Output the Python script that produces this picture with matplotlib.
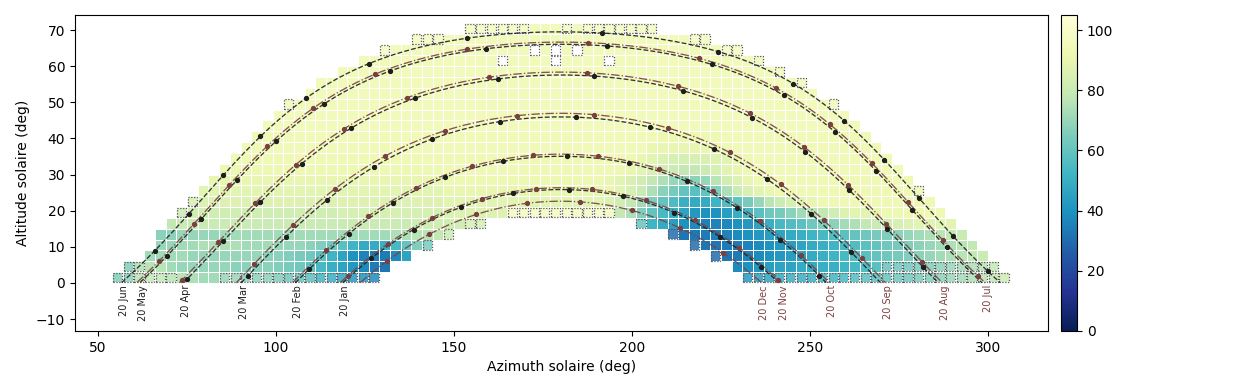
import numpy as np
import matplotlib
matplotlib.use("Agg")
import matplotlib.pyplot as plt
from matplotlib.patches import Rectangle
from matplotlib.colors import Normalize
from matplotlib.cm import ScalarMappable

# ---------------- data ----------------
# grid of 3 deg x 3 deg cells, azimuth edges start at 54 deg, altitude edges at 0 deg
az_first_edge = 54
alt_first_edge = 0
cell_size = 3
n_cols = 84
n_rows = 24

# each row (altitude band) : list of (first column, values)  ; None = empty cell
row_00 = [(0, [66, 68, 76, 78, 78, 76, 76, 74, 72, 72, 70, 70, 68, 68, 68, 66, 62, 60, 58, 52, 50, 46, 42, 40, 38]),
          (59, [42, 44, 46, 48, 50, 50, 50, 52, 52, 54, 56, 58, 58, 60, 62, 62, 64, 66, 68, 70, 72, 74, 76, 78, 82])]
row_01 = [(1, [66, 74, 76, 76, 72, 70, 70, 70, 70, 70, 68, 68, 68, 68, 66, 64, 62, 58, 54, 50, 46, 42, 38, 34, 32]),
          (58, [38, 40, 42, 44, 46, 46, 48, 48, 50, 50, 52, 54, 56, 58, 60, 62, 62, 64, 66, 68, 70, 72, 74, 76, 78])]
row_02 = [(3, [72, 72, 72, 72, 70, 70, 70, 70, 70, 70, 70, 68, 68, 66, 64, 62, 58, 52, 46, 40, 36, 34, 34, 38, 46]),
          (56, [30, 32, 34, 36, 38, 40, 42, 44, 46, 48, 50, 52, 54, 56, 58, 60, 62, 64, 66, 68, 70, 72, 74, 76, 78, 80])]
row_03 = [(4, [70, 70, 72, 72, 74, 74, 74, 74, 72, 72, 72, 70, 70, 70, 68, 66, 62, 58, 52, 48, 48, 50, 54, 60, 66, 64]),
          (54, [30, 32, 32, 34, 34, 36, 38, 40, 42, 44, 46, 48, 50, 52, 54, 56, 58, 60, 62, 64, 66, 68, 70, 72, 74, 76, 78])]
row_04 = [(4, [68, 68, 70, 70, 70, 70, 72, 72, 72, 72, 72, 72, 72, 72, 72, 72, 72, 72, 72, 72, 72, 72, 74, 74, 76, 76, 78, 80]),
          (52, [30, 32, 33, 34, 35, 36, 38, 40, 42, 44, 46, 48, 50, 52, 54, 56, 58, 60, 62, 64, 66, 68, 70, 72, 74, 76, 78, 80])]
row_05 = [(5, [78, 80, 80, 80, 80, 80, 80, 80, 80, 80, 80, 80, 80, 80, 80, 80, 80, 80, 80, 80, 80, 80, 80, 82, 82, 82, 82, 82, 84, 84]),
          (49, [60, 52, 48, 44, 40, 38, 36, 36, 37, 40, 42, 46, 50, 54, 56, 58, 62, 66, 68, 72, 74, 78, 80, 82, 84, 86, 88, 88, 88, 88])]
row_06 = [(6, [80, 82, 82, 82, 82, 82, 82, 82, 82, 82, 82, 82, 82, 82, 82, 84, 84, 84, 84, 84, 84, 84, 84, 84, 84, 86, 86, 86, 86, 86, 86,
               98, 98, 98, 98, 98, 98, 98, 98, 98, 98,
               78, 74, 66, 60, 54, 50, 46, 42, 40, 40, 44, 50, 54, 58, 62, 64, 68, 72, 76, 78, 82, 86, 88, 88, 90, 92, 92, 93, 93, 93, 93])]
row_07 = [(7, [84, 86, 86, 86, 86, 86, 86, 86, 86, 86, 86, 86, 86, 86, 86, 86, 86, 86, 86, 86, 86, 86, 86, 86, 88, 88, 88, 88, 88, 88,
               88, 88, 88, 88, 88, 88, 88, 88, 88,
               86, 82, 78, 72, 66, 60, 55, 50, 48, 48, 52, 56, 60, 64, 70, 76, 80, 84, 88, 90, 92, 93, 93, 93, 93, 93, 93, 93, 93, 93, 93])]
row_08 = [(8, [88, 88, 88, 88, 88, 88, 88, 88, 88, 88, 88, 88, 88, 88, 88, 88, 88, 88, 88, 88, 88, 88, 88, 90, 90, 90, 90, 90, 90, 90,
               90, 90, 90, 90, 90, 90, 90, 90, 90,
               88, 84, 80, 74, 68, 64, 60, 58, 60, 66, 74, 80, 85, 88, 90, 92, 93, 93, 93, 93, 93, 93, 93, 93, 93, 93, 93, 93, 93])]
row_09 = [(9, [90, 90, 90, 90, 90, 90, 90, 90, 90, 90, 90, 90, 90, 90, 90, 90, 90, 90, 90, 90, 90, 90, 92, 92, 92, 92, 92, 92, 92, 92,
               92, 92, 92, 92, 92, 92, 92,
               90, 88, 85, 82, 78, 74, 70, 68, 68, 70, 76, 82, 86, 90, 92, 93, 93, 93, 93, 93, 93, 93, 93, 93, 93, 93, 93, 93, 93])]
row_10 = [(10, [92, 92, 92, 92, 92, 92, 92, 92, 92, 92, 92, 92, 92, 92, 92, 92, 92, 92, 92, 92, 92, 93, 93, 93, 93, 93, 93, 93, 93, 93,
                93, 93, 93, 93, 93, 93, 93,
                92, 90, 88, 85, 82, 80, 78, 78, 80, 84, 88, 90, 92, 94, 94, 94, 94, 94, 94, 94, 94, 94, 94, 94, 94, 94, 94])]
row_11 = [(11, [93, 93, 93, 93, 93, 93, 93, 93, 93, 93, 93, 93, 93, 93, 93, 93, 93, 93, 93, 93, 93, 93, 93, 93, 93, 93, 93, 93, 93, 93,
                93, 93, 93, 93, 93, 93, 93,
                92, 90, 88, 86, 84, 84, 84, 85, 86, 88, 90, 92, 94, 94, 94, 94, 94, 94, 94, 94, 94, 94, 94, 94, 94])]
row_12 = [(12, [94, 94, 94, 94, 94, 94, 94, 94, 94, 94, 94, 94, 94, 94, 94, 94, 94, 94, 94, 94, 94, 94, 94, 94, 94, 94, 94, 94, 94, 94,
                94, 94, 94, 94, 94, 94, 94, 94,
                91, 90, 90, 90, 90, 91, 92, 93,
                94, 94, 94, 94, 94, 94, 94, 94, 94, 94, 94, 94, 94, 94])]
row_13 = [(13, [94, 94, 94, 94, 94, 94, 94, 94, 94, 94, 94, 94, 94, 94, 94, 94, 94, 94, 94, 94, 94, 94, 94, 94, 94, 94, 94, 94, 94, 94,
                94, 94, 94, 94, 94, 94, 94, 94,
                92, 92, 92, 92, 92, 92,
                94, 94, 94, 94, 94, 94, 94, 94, 94, 94, 94, 94, 94, 94])]
row_14 = [(14, [95, 95, 95, 95, 95, 95, 95, 95, 95, 95, 95, 95, 95, 95, 95, 95, 95, 95, 95, 95, 95, 95, 95, 95, 95, 95, 95, 95,
                95, 95, 95, 95, 95, 95, 95, 95, 95, 95, 95, 95, 95, 95, 95, 95, 95, 95, 95, 95, 95, 95, 95, 95, 95, 95, 95, 95])]
row_15 = [(15, [95, 95, 95, 95, 95, 95, 95, 95, 95, 95, 95, 95, 95, 95, 95, 95, 95, 95, 95, 95, 95, 95, 95, 95, 95, 95, 95,
                95, 95, 95, 95, 95, 95, 95, 95, 95, 95, 95, 95, 95, 95, 95, 95, 95, 95, 95, 95, 95, 95, 95, 95, 95, 95, 95])]
row_16 = [(16, [95, 95, 95, 95, 95, 95, 95, 95, 95, 95, 95, 95, 95, 95, 95, 95, 95, 95, 95, 95, 95, 95, 95, 95, 95, 95,
                95, 95, 95, 95, 95, 95, 95, 95, 95, 95, 95, 95, 95, 95, 95, 95, 95, 95, 95, 95, 95, 95, 95, 95, 95, 95])]
row_17 = [(18, [95, 95, 95, 95, 95, 95, 95, 95, 95, 95, 95, 95, 95, 95, 95, 95, 95, 95, 95, 95, 95, 95, 95, 95,
                95, 95, 95, 95, 95, 95, 95, 95, 95, 95, 95, 95, 95, 95, 95, 95, 95, 95, 95, 95, 95, 95, 95, 95])]
row_18 = [(19, [95, 95, 95, 95, 95, 95, 95, 95, 95, 95, 95, 95, 95, 95, 95, 95, 95, 95, 95, 95, 95, 95, 95,
                95, 95, 95, 95, 95, 95, 95, 95, 95, 95, 95, 95, 95, 95, 95, 95, 95, 95, 95, 95, 95, 95, 95])]
row_19 = [(21, [95, 95, 95, 95, 95, 95, 95, 95, 95, 95, 95, 95, 95, 95, 95, 95, 95, 95, 95, 95, 95,
                95, 95, 95, 95, 95, 95, 95, 95, 95, 95, 95, 95, 95, 95, 95, 95, 95, 95, 95, 95, 95])]
row_20 = [(23, [95, 95, 95, 95, 95, 95, 95, 95, 95, 95, 95, 95, 95, None, 95, 95, 95, 95, None, 95,
                95, 95, 95, None, 95, 95, 95, 95, 95, 95, 95, 95, 95, 95, 95, 95, 95, 95])]
row_21 = [(25, [97, 95, 95, 95, 95, 95, 95, 95, 95, 95, 95, 95, 95, 95, None, 95, None, 95, None, 95,
                95, 95, 95, 95, 95, 95, 95, 95, 95, 95, 95, 95, 97, 97])]
row_22 = [(28, [97, 97, 97, 95, 95, 95, 95, 95, 95, 95, 95, 95, 95, 95, 95, 95, 95, 95, 95, 95,
                95, 95, 95, 95, 95, 95, 97, 97])]
row_23 = [(33, [97, 97, 97, 97, 97, 97, 95, 95, 95, 97, 95, 97, 97, 97, 97, 97, 97, 97])]

# cells drawn with a dotted outline: (row, first column, last column)
dotted_runs = [
    (0, 0, 5), (0, 10, 24), (0, 59, 83),
    (1, 1, 2), (1, 72, 82),
    (2, 56, 56),
    (3, 29, 29), (3, 54, 54),
    (4, 31, 31), (4, 52, 52),
    (5, 33, 34), (5, 49, 49),
    (6, 6, 6), (6, 37, 46),
    (7, 7, 7),
    (8, 75, 75),
    (16, 16, 16), (16, 67, 67),
    (18, 64, 64),
    (19, 62, 62),
    (20, 36, 36), (20, 41, 41), (20, 46, 46), (20, 60, 60),
    (21, 25, 25), (21, 39, 39), (21, 41, 41), (21, 43, 43), (21, 57, 58),
    (22, 28, 30), (22, 54, 55),
    (23, 33, 38), (23, 42, 42), (23, 44, 50),
]

# sun paths (20th of each month)
path_labels = ['20 Jan', '20 Feb', '20 Mar', '20 Apr', '20 May', '20 Jun',
               '20 Jul', '20 Aug', '20 Sep', '20 Oct', '20 Nov', '20 Dec']
declination_deg = [-20.2, -11.0, -0.1, 11.5, 20.0, 23.44,
                   20.6, 12.3, 0.9, -10.4, -19.7, -23.43]
equation_of_time_min = [-10.9, -13.9, -7.6, 1.1, 3.5, -1.4,
                        -6.3, -3.5, 6.6, 15.2, 14.3, 2.4]
site_latitude = 43.95
site_longitude = 4.81

all_rows = [row_00, row_01, row_02, row_03, row_04, row_05, row_06, row_07,
            row_08, row_09, row_10, row_11, row_12, row_13, row_14, row_15,
            row_16, row_17, row_18, row_19, row_20, row_21, row_22, row_23]

# ---------------- build grid ----------------
Z = np.full((n_rows, n_cols), np.nan)
for r, segs in enumerate(all_rows):
    for c0, vals in segs:
        for k, v in enumerate(vals):
            if v is not None and c0 + k < n_cols:
                Z[r, c0 + k] = v

dotted = np.zeros((n_rows, n_cols), dtype=bool)
for r, c0, c1 in dotted_runs:
    dotted[r, c0:c1 + 1] = True

az_edges = az_first_edge + cell_size * np.arange(n_cols + 1)
alt_edges = alt_first_edge + cell_size * np.arange(n_rows + 1)

cmap = plt.get_cmap('YlGnBu_r')
norm = Normalize(vmin=0, vmax=105)

fig = plt.figure(figsize=(12.5, 3.9), dpi=100)
ax = fig.add_axes([0.06, 0.1513, 0.7784, 0.8102])
cax = fig.add_axes([0.8488, 0.1513, 0.0128, 0.8102])

Zplain = np.ma.masked_where(np.isnan(Z) | dotted, Z)
ax.pcolormesh(az_edges, alt_edges, Zplain, cmap=cmap, norm=norm,
              edgecolors='white', linewidth=0.55, zorder=1)

inset = 0.2
for r in range(n_rows):
    for c in range(n_cols):
        if dotted[r, c]:
            v = Z[r, c]
            x0 = az_edges[c] + inset
            y0 = alt_edges[r] + inset
            if np.isnan(v):
                fc = 'white'
                al = 1.0
            else:
                fc = cmap(norm(v))
                al = 0.85
            ax.add_patch(Rectangle((x0, y0), cell_size - 2 * inset, cell_size - 2 * inset,
                                   facecolor=fc, alpha=al, edgecolor='none', zorder=2))
            ax.add_patch(Rectangle((x0, y0), cell_size - 2 * inset, cell_size - 2 * inset,
                                   facecolor='none', edgecolor='#555555', linewidth=0.9,
                                   linestyle=(0, (1, 1.3)), zorder=2.5))

# ---------------- sun paths ----------------
phi = np.radians(site_latitude)
t = np.arange(0, 24 * 60 + 1) / 60.0
hours = np.arange(0, 25)
black_col = '#1e1e1e'
brown_col = '#7a4040'


def sun_position(tt, dec_deg, eot_min):
    H = np.radians(15.0 * (tt - 12.0) + site_longitude + eot_min / 4.0)
    d = np.radians(dec_deg)
    sin_h = np.sin(phi) * np.sin(d) + np.cos(phi) * np.cos(d) * np.cos(H)
    alt = np.degrees(np.arcsin(sin_h))
    az = np.degrees(np.arctan2(np.sin(H), np.cos(H) * np.sin(phi) - np.tan(d) * np.cos(phi))) + 180.0
    return az, alt


for i, (lab, dec, eot) in enumerate(zip(path_labels, declination_deg, equation_of_time_min)):
    az, alt = sun_position(t, dec, eot)
    up = alt >= 0
    if i < 6:
        col, ls = black_col, '--'
    else:
        col, ls = brown_col, '-.'
    ax.plot(az[up], alt[up], color=col, linestyle=ls, linewidth=0.95, alpha=0.9, zorder=3)
    haz, halt = sun_position(hours.astype(float), dec, eot)
    hup = halt > 0
    ax.plot(haz[hup], halt[hup], 'o', color=col, markersize=2.8, zorder=4)
    if i < 6:
        x_lab = az[up][0]
    else:
        x_lab = az[up][-1]
    ax.annotate(lab, xy=(x_lab, 0), xytext=(1.8, -1.5), textcoords='offset points',
                rotation=90, ha='center', va='top', fontsize=7, color=col, zorder=5)

ax.set_xlim(43.5, 316.85)
ax.set_ylim(-13.3, 74.15)
ax.set_xticks([50, 100, 150, 200, 250, 300])
ax.set_yticks([-10, 0, 10, 20, 30, 40, 50, 60, 70])
ax.set_xlabel('Azimuth solaire (deg)')
ax.set_ylabel('Altitude solaire (deg)')

cb = fig.colorbar(ScalarMappable(norm=norm, cmap=cmap), cax=cax, ticks=[0, 20, 40, 60, 80, 100])

fig.savefig('out.png', dpi=100)
